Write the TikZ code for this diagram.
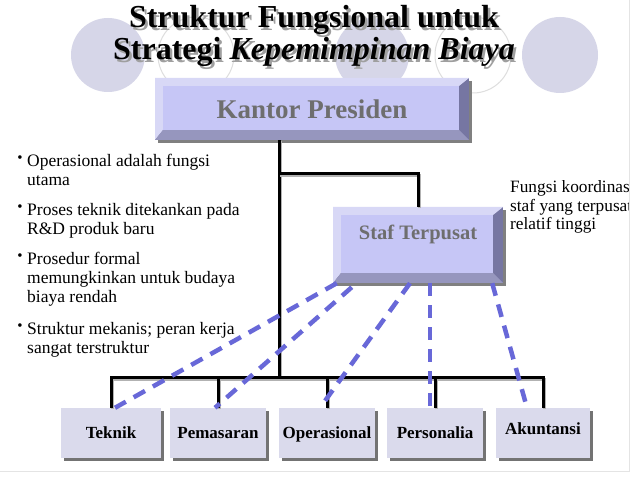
\documentclass[tikz,border=0pt]{standalone}
\usepackage{fontspec}
\setmainfont{Liberation Serif}
\usetikzlibrary{shadows}

\definecolor{lingkaranisi}{RGB}{214,214,232}
\definecolor{lingkarangaris}{RGB}{222,222,222}
\definecolor{muka}{RGB}{198,198,246}
\definecolor{bevelterang}{RGB}{216,216,246}
\definecolor{bevelgelap}{RGB}{118,118,162}
\definecolor{bevelbawah}{RGB}{150,150,190}
\definecolor{kotakisi}{RGB}{218,218,236}
\definecolor{teksabu}{RGB}{110,110,110}
\definecolor{ungu}{RGB}{104,104,216}
\definecolor{tepi}{RGB}{228,228,228}

\tikzset{
  bevel/.style={fill=bevelgelap, inner sep=0pt, text=teksabu,
    drop shadow={shadow xshift=3pt, shadow yshift=-3pt, fill=gray, opacity=1},
    path picture={
      \fill[bevelterang] (path picture bounding box.north west) -- (path picture bounding box.north east)
        -- ([xshift=-10pt,yshift=-8pt]path picture bounding box.north east)
        -- ([xshift=8pt,yshift=-8pt]path picture bounding box.north west)
        -- ([xshift=8pt,yshift=10pt]path picture bounding box.south west)
        -- (path picture bounding box.south west) -- cycle;
      \fill[bevelbawah] (path picture bounding box.south west)
        -- ([xshift=8pt,yshift=10pt]path picture bounding box.south west)
        -- ([xshift=-10pt,yshift=10pt]path picture bounding box.south east)
        -- (path picture bounding box.south east) -- cycle;
      \fill[muka] ([xshift=8pt,yshift=-8pt]path picture bounding box.north west)
        rectangle ([xshift=-10pt,yshift=10pt]path picture bounding box.south east);
    }},
}

\begin{document}
\begin{tikzpicture}[x=1pt, y=-1pt,
  judul/.style={anchor=base, inner sep=0pt, font=\bfseries\fontsize{32}{32}\selectfont},
  garis/.style={line width=3pt, preaction={draw=gray!60, line width=3pt, transform canvas={xshift=1.2pt, yshift=-1.2pt}}},
  putus/.style={line width=4.5pt, draw=ungu, dash pattern=on 13pt off 9pt},
  kotak/.style={fill=kotakisi, minimum width=96pt, minimum height=50pt, inner sep=0pt, text depth=0pt,
    font=\bfseries\fontsize{17}{17}\selectfont,
    drop shadow={shadow xshift=3pt, shadow yshift=-3pt, fill=black!55, opacity=1}},
  poin/.style={anchor=base west, align=left, inner sep=0pt, font=\fontsize{17.5}{19}\selectfont},
  titik/.style={anchor=base, inner sep=0pt, font=\fontsize{15}{15}\selectfont},
]
\useasboundingbox[fill=white] (0,0) rectangle (638,478);

% lingkaran latar
\fill[lingkaranisi] (108,55) circle (37);
\draw[lingkarangaris, line width=1pt] (196,55) circle (38);
\fill[lingkaranisi] (372,55) circle (37);
\draw[lingkarangaris, line width=1pt] (473,55) circle (38);
\fill[lingkaranisi] (560,55) circle (38);
\draw[tepi] (629,0) -- (629,471) -- (0,471);

% judul
\node[judul, text=gray!75] (judulbayang1) at (316.5,30.5) {Struktur Fungsional untuk};
\node[judul] (judul1) at (314,28) {Struktur Fungsional untuk};
\node[judul, text=gray!75] (judulbayang2) at (316.5,62.5) {Strategi \textit{Kepemimpinan Biaya}};
\node[judul] (judul2) at (314,60) {Strategi \textit{Kepemimpinan Biaya}};

% garis organisasi
\coordinate (cabang) at (279,174);
\coordinate (bawah) at (279,378);

\node[bevel, minimum width=314pt, minimum height=62pt, font=\bfseries\fontsize{27}{27}\selectfont] (kantor) at (312,109) {Kantor Presiden};
\node[bevel, minimum width=170pt, minimum height=76pt, text depth=26pt, font=\bfseries\fontsize{20.5}{20.5}\selectfont] (staf) at (418,245) {Staf Terpusat};

\node[kotak, minimum width=100pt] (teknik) at (111,433) {Teknik};
\node[kotak] (pemasaran) at (218,433) {Pemasaran};
\node[kotak] (operasional) at (327,433) {Operasional};
\node[kotak] (personalia) at (435,433) {Personalia};
\node[kotak, minimum width=94pt, text depth=8pt] (akuntansi) at (543,433) {Akuntansi};

\draw[garis] (kantor.south -| bawah) -- (bawah);
\draw[garis] (cabang) -| (staf.north);
\draw[garis] (teknik.north) |- (bawah) -| (akuntansi.north);
\draw[garis] (pemasaran.north) -- (pemasaran.north |- bawah);
\draw[garis] (operasional.north) -- (operasional.north |- bawah);
\draw[garis] (personalia.north) -- (personalia.north |- bawah);

% koordinasi staf
\draw[putus] ([xshift=4pt]staf.south west) -- ([xshift=4pt]teknik.north);
\draw[putus] ([xshift=19pt,yshift=-4pt]staf.south west) -- ([xshift=-3pt]pemasaran.north);
\draw[putus] ([xshift=-8pt]staf.south) -- ([xshift=-7pt]operasional.north);
\draw[putus] ([xshift=12pt]staf.south) -- ([xshift=-5pt]personalia.north);
\draw[putus] ([xshift=-11pt]staf.south east) -- ([xshift=-16pt]akuntansi.north);

% poin kiri (base = baris terakhir)
\node[titik] (t1) at (20,163) {\textbullet};
\node[poin] (p1) at (27,186) {Operasional adalah fungsi\\utama};
\node[titik] (t2) at (20,212) {\textbullet};
\node[poin] (p2) at (27,235) {Proses teknik ditekankan pada\\R\&D produk baru};
\node[titik] (t3) at (20,261) {\textbullet};
\node[poin] (p3) at (27,303) {Prosedur formal\\memungkinkan untuk budaya\\biaya rendah};
\node[titik] (t4) at (20,331) {\textbullet};
\node[poin] (p4) at (27,354) {Struktur mekanis; peran kerja\\sangat terstruktur};

% catatan kanan
\begin{scope}
\clip (0,0) rectangle (628,478);
\node[anchor=base west, align=left, inner sep=0pt, font=\fontsize{17.3}{18.3}\selectfont] (catatan) at (510,229.6) {Fungsi koordinasi\\staf yang terpusat\\relatif tinggi};
\end{scope}
\end{tikzpicture}
\end{document}
